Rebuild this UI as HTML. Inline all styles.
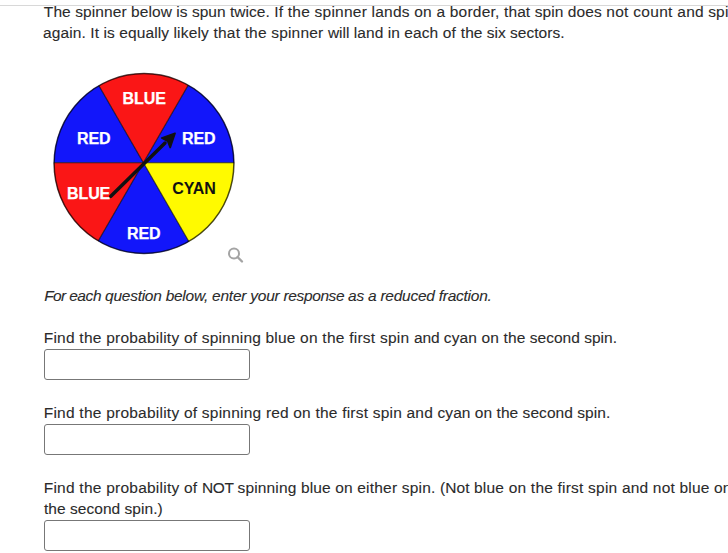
<!DOCTYPE html>
<html><head><meta charset="utf-8">
<style>
html,body{margin:0;padding:0;background:#fff;width:728px;height:553px;overflow:hidden;position:relative}
body{font-family:"Liberation Sans",sans-serif;color:#2b2b2b;font-size:15.5px}
.ln{-webkit-text-stroke:0.1px #2b2b2b}
.hr{position:absolute;left:0;top:5px;width:728px;height:1px;background:#d8d8d8}
.ln{position:absolute;left:44px;white-space:nowrap;line-height:21px}
.it{font-style:italic}
.ln span{position:absolute;top:0;white-space:pre}
.box{position:absolute;left:44px;width:204px;height:29px;border:1px solid #777;border-radius:3px;background:#fff}
svg{position:absolute;left:0;top:0}
</style></head><body>
<div class="hr"></div>
<div class="ln" style="top:1px;letter-spacing:0.165px"><span style="left:-0.16px;letter-spacing:0.086px">The spinner below </span><span style="left:132.34px;letter-spacing:0.033px">is spun twice. </span><span style="left:230.19px;letter-spacing:0.234px">If the spinner </span><span style="left:327.62px;letter-spacing:0.211px">lands on a border, </span><span style="left:460.03px;letter-spacing:0.095px">that spin does </span><span style="left:562.26px;letter-spacing:0.301px">not count </span><span style="left:633.36px;letter-spacing:0.165px">and spin</span></div>
<div class="ln" style="top:22px;letter-spacing:0.105px"><span style="left:-0.92px;letter-spacing:0.096px">again. It is equally </span><span style="left:129.47px;letter-spacing:0.187px">likely that the spinner </span><span style="left:283.88px;letter-spacing:0.009px">will </span><span style="left:309.76px;letter-spacing:0.075px">land in each </span><span style="left:398.64px;letter-spacing:0.321px">of </span><span style="left:416.83px;letter-spacing:0.021px">the six sectors.</span></div>

<svg width="728" height="553" viewBox="0 0 728 553">
  <defs><clipPath id="cc"><circle cx="144" cy="163.5" r="90.2"/></clipPath></defs>
  <g clip-path="url(#cc)">
    <path d="M143.4 162.8 L263.40 162.80 L203.40 58.88 Z" fill="#1216fa"/>
    <path d="M143.4 162.8 L203.40 58.88 L83.40 58.88 Z" fill="#fa1616"/>
    <path d="M143.4 162.8 L83.40 58.88 L23.40 162.80 Z" fill="#1216fa"/>
    <path d="M143.4 162.8 L23.40 162.80 L83.40 266.72 Z" fill="#fa1616"/>
    <path d="M143.4 162.8 L83.40 266.72 L203.40 266.72 Z" fill="#1216fa"/>
    <path d="M143.4 162.8 L203.40 266.72 L263.40 162.80 Z" fill="#fffa00"/>
    <g stroke="#000" stroke-opacity="0.7" stroke-width="1.1">
      <line x1="23.40" y1="162.80" x2="263.40" y2="162.80"/>
      <line x1="83.40" y1="266.72" x2="203.40" y2="58.88"/>
      <line x1="203.40" y1="266.72" x2="83.40" y2="58.88"/>
    </g>
  </g>
  <circle cx="144" cy="163.5" r="89.9" fill="none" stroke="#000" stroke-opacity="0.7" stroke-width="1.5"/>
  <g font-family="Liberation Sans" font-weight="bold" font-size="16" stroke-width="0.25" letter-spacing="-0.1">
    <text x="122.6" y="103.5" fill="#fff" stroke="#fff">BLUE</text>
    <text x="77" y="143.7" fill="#fff" stroke="#fff">RED</text>
    <text x="182" y="143.7" fill="#fff" stroke="#fff">RED</text>
    <text x="67" y="198.9" fill="#fff" stroke="#fff">BLUE</text>
    <text x="172.3" y="193.8" fill="#111" stroke="none">CYAN</text>
    <text x="127" y="238.7" fill="#fff" stroke="#fff">RED</text>
  </g>
  <line x1="110.8" y1="196.3" x2="165" y2="143" stroke="#111" stroke-width="3.5" stroke-linecap="round"/>
  <path d="M175 133.3 L161.8 138 L167.8 141.2 L170.2 147.5 Z" fill="#111" stroke="#111" stroke-width="1.8" stroke-linejoin="round"/>
  <g stroke="#a4a4a4" stroke-width="2" fill="none">
    <circle cx="234" cy="253.5" r="5"/>
    <line x1="237.5" y1="257" x2="242" y2="261.5" stroke-width="2.4" stroke-linecap="round"/>
  </g>
</svg>

<div class="ln it" style="top:285px;letter-spacing:-0.31px"><span style="left:0.27px;letter-spacing:-0.665px">For </span><span style="left:25.17px;letter-spacing:-0.405px">each </span><span style="left:61.05px;letter-spacing:-0.256px">question </span><span style="left:121.66px;letter-spacing:-0.266px">below, </span><span style="left:168.05px;letter-spacing:-0.230px">enter your </span><span style="left:239.62px;letter-spacing:-0.398px">response </span><span style="left:304.11px;letter-spacing:-0.254px">as a reduced fraction.</span></div>
<div class="ln" style="top:327px;letter-spacing:0.16px"><span style="left:-0.30px;letter-spacing:0.236px">Find the probability </span><span style="left:139.92px;letter-spacing:0.194px">of spinning </span><span style="left:221.52px;letter-spacing:0.187px">blue </span><span style="left:256.08px;letter-spacing:0.248px">on the first spin </span><span style="left:369.96px;letter-spacing:-0.062px">and </span><span style="left:399.87px;letter-spacing:0.126px">cyan on the </span><span style="left:485.84px;letter-spacing:0.007px">second spin.</span></div>
<div class="box" style="top:349px"></div>
<div class="ln" style="top:402px;letter-spacing:0.17px"><span style="left:-0.30px;letter-spacing:0.235px">Find the probability of spinning </span><span style="left:222.02px;letter-spacing:0.140px">red </span><span style="left:249.27px;letter-spacing:0.211px">on the first spin </span><span style="left:362.50px;letter-spacing:0.223px">and </span><span style="left:393.56px;letter-spacing:0.050px">cyan on the </span><span style="left:478.60px;letter-spacing:0.057px">second spin.</span></div>
<div class="box" style="top:424px"></div>
<div class="ln" style="top:477px;letter-spacing:0.168px"><span style="left:-0.30px;letter-spacing:0.239px">Find the probability of </span><span style="left:157.94px;letter-spacing:-0.294px">NOT </span><span style="left:193.50px;letter-spacing:0.155px">spinning blue </span><span style="left:291.34px;letter-spacing:0.110px">on </span><span style="left:313.22px;letter-spacing:0.213px">either spin. </span><span style="left:396.11px;letter-spacing:0.070px">(Not </span><span style="left:430.04px;letter-spacing:0.210px">blue on the first spin </span><span style="left:577.90px;letter-spacing:0.199px">and not </span><span style="left:635.52px;letter-spacing:0.168px">blue on</span></div>
<div class="ln" style="top:498px;letter-spacing:0.04px">the second spin.)</div>
<div class="box" style="top:520px"></div>
</body></html>
